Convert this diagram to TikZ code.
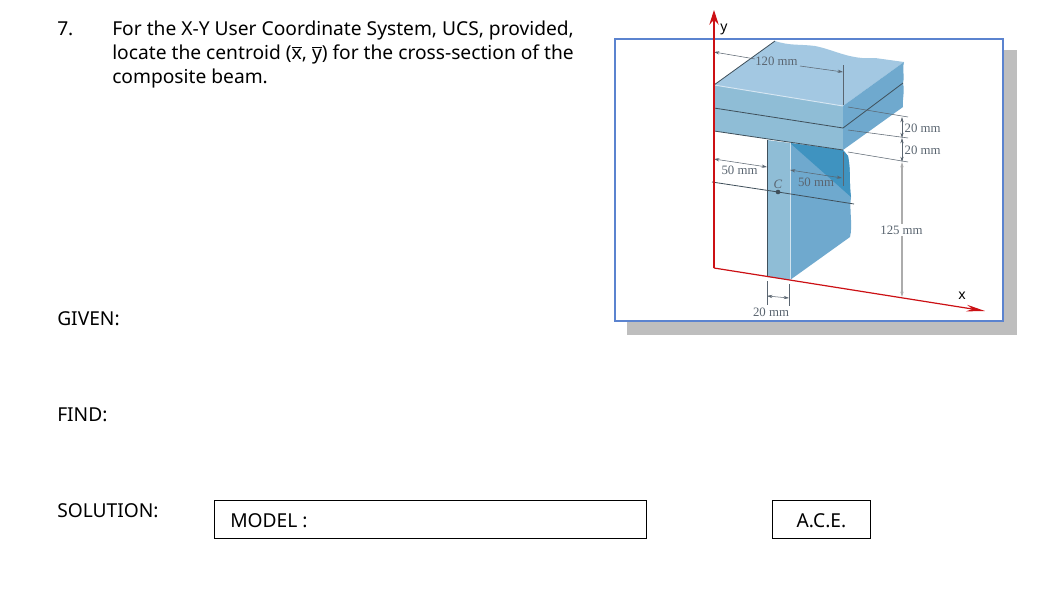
\documentclass[tikz,border=0pt]{standalone}
\usepackage{fontspec}
\setmainfont{Noto Sans}
\newfontfamily\dimfont{Liberation Serif}
\usetikzlibrary{arrows.meta}
\definecolor{topc}{HTML}{A3C8E2}
\definecolor{frontc}{HTML}{8FBDD6}
\definecolor{sidec}{HTML}{6FA9CE}
\definecolor{darkc}{HTML}{3F93C0}
\definecolor{edgec}{HTML}{3F4F5A}
\definecolor{framec}{HTML}{5B83CF}
\definecolor{shadowc}{HTML}{BEBEBE}
\definecolor{axisc}{HTML}{CC1014}
\definecolor{dimc}{HTML}{5A6570}
\tikzset{
  body/.style={font=\fontsize{14.4}{17}\selectfont, anchor=base west, inner sep=0pt},
  answerbox/.style={draw=black, line width=0.7pt, fill=white},
  dimlabel/.style={font=\dimfont\fontsize{9.6}{11}\selectfont, text=dimc, inner sep=1pt},
  dimline/.style={draw=dimc, line width=0.4pt},
  dimarrow/.style={dimline, {Stealth[length=4pt,width=2.4pt]}-{Stealth[length=4pt,width=2.4pt]}},
  dimto/.style={dimline, -{Stealth[length=4pt,width=2.4pt]}},
  axisline/.style={draw=axisc, line width=0.9pt},
  edge/.style={draw=edgec, line width=0.6pt},
  axlabel/.style={font=\fontsize{10.5}{12}\selectfont, inner sep=0pt},
}
\begin{document}
\begin{tikzpicture}[x=0.75pt,y=-0.75pt]
\useasboundingbox (0,0) rectangle (1051,600);
% text
\node[body] (num) at (57,35) {7.};
\node[body] (l1) at (112,35) {For the X-Y User Coordinate System, UCS, provided,};
\node[body] (l2) at (112,59) {locate the centroid ($\overline{\mbox{x}}$, $\overline{\mbox{y}}$) for the cross-section of the};
\node[body] (l3) at (112,83) {composite beam.};
\node[body] (given) at (57,325) {GIVEN:};
\node[body] (find) at (57,421) {FIND:};
\node[body] (sol) at (57,517) {SOLUTION:};
\node[answerbox, minimum width=324pt, minimum height=28.5pt, anchor=north west] (model) at (214,500) {};
\node[body] (modeltext) at (230,527) {MODEL :};
\node[answerbox, minimum width=73.5pt, minimum height=28.5pt, anchor=north west] (ace) at (772,500) {};
\node[body, anchor=base] (acetext) at (821.5,527) {A.C.E.};
% frame with shadow
\fill[shadowc] (627,50) rectangle (1017,335);
\draw[draw=framec, fill=white, line width=1pt] (615,39) rectangle (1003,321);
% beam
\fill[sidec] (790,143) -- (843,150) -- (848,156) .. controls (851,170) and (849,185) .. (851,197) .. controls (849,210) and (853,225) .. (850,237) -- (790,280) -- cycle;
\fill[darkc] (790,143) -- (843,150) -- (848,156) .. controls (851,170) and (849,185) .. (851,197) -- cycle;
\fill[frontc] (767,140) -- (790,143) -- (790,280) -- (767,277) -- cycle;
\draw[edge] (767,140) -- (767,277);
\draw[white!60!frontc, line width=0.5pt] (790,143) -- (790,280);
\fill[topc] (714,85) -- (775,41) .. controls (790,46) and (800,44) .. (815,46) .. controls (835,50) and (850,60) .. (875,58) -- (904,62) -- (843,106) -- cycle;
\fill[frontc] (714,85) -- (843,106) -- (843,150) -- (714,131) -- cycle;
\fill[sidec] (843,106) -- (904,62) .. controls (902,70) and (905,78) .. (903,83) .. controls (905,92) and (902,100) .. (903,107) -- (843,150) -- cycle;
\draw[white!55!topc, line width=0.7pt] (714,85) -- (843,106);
\draw[edge] (714,108) -- (843,128) -- (903,83);
\draw[edge] (714,131) -- (843,150);
\draw[edge] (714,85) -- (775,41);
% centroid
\fill[edgec] (778,192) circle (2.3);
\coordinate (cdot) at (778,192);
\coordinate (ca) at (712,182);
\coordinate (cb) at (854,204);
\draw[edge] (ca) -- (cdot) -- (cb);
\node[font=\dimfont\itshape\fontsize{9.6}{11}\selectfont, text=dimc, inner sep=0pt] (clabel) at (778,184) {C};
% dimensions
\coordinate (a1) at (714,52); \coordinate (a2) at (755,59);
\coordinate (a3) at (800,66); \coordinate (a4) at (843,72);
\draw[dimline,{Stealth[length=4pt,width=2.4pt]}-] (a1) -- (a2);
\draw[dimto] (a3) -- (a4);
\coordinate (e1) at (843,65); \coordinate (e2) at (843,105);
\draw[dimline] (e1) -- (e2);
\node[dimlabel] (n120) at (776.5,61) {120 mm};
\coordinate (f1) at (848,107); \coordinate (f2) at (908,117);
\coordinate (g1) at (848,130); \coordinate (g2) at (908,138);
\coordinate (h1) at (848,152); \coordinate (h2) at (908,162);
\draw[dimline] (f1) -- (f2);
\draw[dimline] (g1) -- (g2);
\draw[dimline] (h1) -- (h2);
\coordinate (v1) at (902,117); \coordinate (v2) at (902,138); \coordinate (v3) at (902,162); \coordinate (v4) at (902,297);
\draw[dimarrow] (v1) -- (v2);
\draw[dimarrow] (v2) -- (v3);
\draw[draw=gray!65, line width=0.8pt,{Stealth[length=4pt,width=2.4pt]}-{Stealth[length=4pt,width=2.4pt]}] (v3) -- (v4);
\node[dimlabel, anchor=west] (n20a) at (903,128) {20 mm};
\node[dimlabel, anchor=west] (n20b) at (903,150) {20 mm};
\node[dimlabel, fill=white] (n125) at (901.5,230) {125 mm};
\coordinate (b1) at (714,159); \coordinate (b2) at (767,167);
\draw[dimarrow] (b1) -- (b2);
\node[dimlabel] (n50a) at (739.5,170) {50 mm};
\coordinate (d1) at (790,170); \coordinate (d2) at (842,178);
\draw[dimarrow] (d1) -- (d2);
\coordinate (d3) at (843,152); \coordinate (d4) at (843,186);
\draw[dimline] (d3) -- (d4);
\node[dimlabel] (n50b) at (816,182) {50 mm};
\coordinate (t1) at (767,281); \coordinate (t2) at (767,305);
\coordinate (t3) at (789,284); \coordinate (t4) at (789,306);
\draw[dimline] (t1) -- (t2);
\draw[dimline] (t3) -- (t4);
\coordinate (t5) at (767,296); \coordinate (t6) at (789,298);
\draw[dimarrow] (t5) -- (t6);
\node[dimlabel] (n20c) at (771,312.5) {20 mm};
% axes
\coordinate (o) at (714,268);
\coordinate (yend) at (714,10);
\coordinate (xend) at (985,311);
\draw[axisline, -{Stealth[length=11pt,width=7pt]}] (o) -- (yend);
\draw[axisline, -{Stealth[length=14pt,width=5pt]}] (o) -- (xend);
\node[axlabel] (ylab) at (724,29) {y};
\node[axlabel] (xlab) at (962,296) {x};
\end{tikzpicture}
\end{document}
